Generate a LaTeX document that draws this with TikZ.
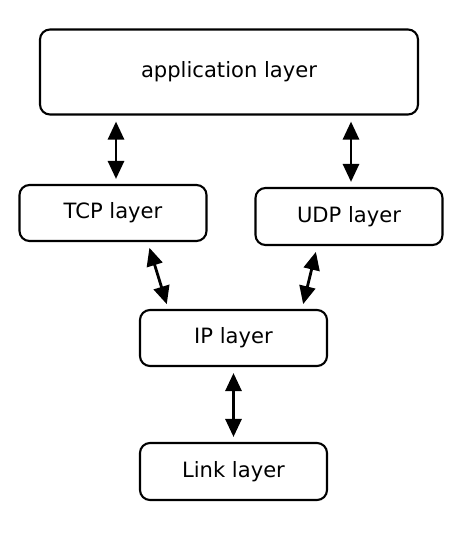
\documentclass[tikz,border=0pt]{standalone}
\usepackage{fontspec}
\setmainfont{DejaVu Sans}
\usepackage{tikz}
\usetikzlibrary{positioning,arrows.meta}

\begin{document}
\begin{tikzpicture}[
        layerbox/.style={rectangle, rounded corners=0.2cm, draw=black, line width=1.2pt, fill=white, text=black, font=\fontsize{12}{14}\selectfont, minimum height=1.12cm, minimum width=3.74cm},
        link/.style={{Triangle[length=0.36cm,width=0.32cm]}-{Triangle[length=0.36cm,width=0.32cm]}, line width=1.6pt, black, shorten <=0.12cm, shorten >=0.1cm}
    ]
    \useasboundingbox (0,0) rectangle (9.48,-10.68);

    % Top layer
    \node[layerbox, minimum width=7.56cm, minimum height=1.7cm] (app) at (4.58, -1.44) {application layer};

    % Transport layers
    \node[layerbox] (tcp) at (2.26, -4.26) {TCP layer};
    \node[layerbox, minimum height=1.14cm] (udp) at (6.98, -4.33) {UDP layer};

    % Network and link layers
    \node[layerbox] (ip) at (4.67, -6.76) {IP layer};
    \node[layerbox, minimum height=1.14cm] (lnk) at (4.67, -9.43) {Link layer};

    \draw[link] (app.south -| 2.32,0) -- (2.32,0 |- tcp.north);
    \draw[link] (app.south -| 7.02,0) -- (7.02,0 |- udp.north);
    \draw[link] (tcp.-40) -- (ip.156);
    \draw[link] (udp.-137) -- (ip.23);
    \draw[link] (ip.south) -- (lnk.north);

\end{tikzpicture}
\end{document}
